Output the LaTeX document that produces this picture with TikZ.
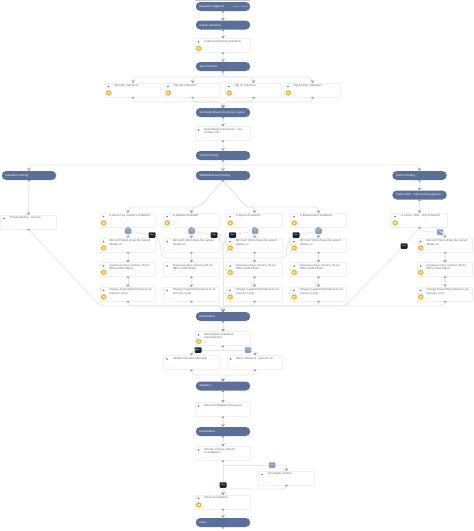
\documentclass[tikz,border=0pt]{standalone}
\usepackage{fontspec}
\setmainfont{Liberation Sans}
\usetikzlibrary{arrows.meta}
\definecolor{hdrblue}{HTML}{5A7099}
\definecolor{linegray}{HTML}{E3E6ED}
\definecolor{tipgray}{HTML}{8E99AB}
\definecolor{warnring}{HTML}{F0B33C}
\definecolor{warnfill}{HTML}{FFF1CF}
\definecolor{iconblue}{HTML}{4F74B8}
\definecolor{icongray}{HTML}{7C8594}
\definecolor{yesblue}{HTML}{84A0C2}
\definecolor{elseblack}{HTML}{1B2230}
\newcommand{\tasktext}[1]{\parbox[c][10.4pt][t]{44pt}{\raggedright #1\par\vfill ...}}
\begin{document}
\begin{tikzpicture}[x=1pt,y=-1pt,
  every node/.style={font=\fontsize{2.8}{3.5}\selectfont},
  header/.style={fill=hdrblue, text=white, rounded corners=4.5pt, minimum width=54.5pt, minimum height=9pt, inner sep=0pt, align=left, text width=47pt},
  taskbox/.style={draw=black!6, line width=0.6pt, fill=white, minimum width=55.5pt, minimum height=13.6pt, inner sep=0pt, text=black!60, align=left, text width=55.5pt, inner xsep=0pt},
  yesbox/.style={fill=yesblue, text=white, rounded corners=0.8pt, minimum width=6.5pt, minimum height=5.5pt, inner sep=0pt, font=\fontsize{1.8}{2}\selectfont},
  elsebox/.style={fill=elseblack, text=white, rounded corners=0.8pt, minimum width=7pt, minimum height=5.5pt, inner sep=0pt, font=\fontsize{1.8}{2}\selectfont},
  conn/.style={draw=linegray, line width=0.8pt, rounded corners=4pt, -{Stealth[length=2.6pt,width=3.8pt,color=tipgray]}},
  link/.style={draw=linegray, line width=0.8pt, rounded corners=4pt},
  ]
  \useasboundingbox (0,0) rectangle (474,531);
  \fill[black!22] (195,0) rectangle (250,1.2);

  % Section headers
  \node[header] (trigger) at (223,6.5) {Playbook Triggered};
  \node[font=\fontsize{2.2}{3}\selectfont, text=white!70!hdrblue] (inout) at (241,6.5) {Inputs / Outputs};
  \node[header] (collecthdr) at (223,25) {Collect Indicators};
  \node[header] (taghdr) at (223,66.5) {Tag Indicators};
  \node[header] (layouthdr) at (223,112.5) {Set Rapid Breach Response Layout};
  \node[header] (hunthdr) at (223,155.5) {Threat Hunting};
  \node[header] (indichdr) at (29,175.5) {Indicators Hunting};
  \node[header] (siemhdr) at (223,175.5) {SIEM/Advanced Hunting};
  \node[header] (cortexhdr) at (419.5,175.5) {Cortex Hunting};
  \node[header] (xqlhdr) at (419.5,195) {Cortex XDR - XQL Hunting Queries};
  \node[header] (remedhdr) at (223,316.5) {Remediation};
  \node[header] (mitighdr) at (223,386) {Mitigation};
  \node[header] (resolhdr) at (223,431.5) {Remediation};
  \node[header] (donehdr) at (223,522.5) {Done};

  % Upper tasks
  \node[taskbox] (collect) at (223,45.5) {\hspace*{9pt}\tasktext{Collect and Extract Indicators}};
  \node[taskbox] (tagone) at (133,90) {\hspace*{9pt}\tasktext{Tag URL Indicators}};
  \node[taskbox] (tagtwo) at (192.5,90) {\hspace*{9pt}\tasktext{Tag File Indicators}};
  \node[taskbox] (tagthree) at (253.5,90) {\hspace*{9pt}\tasktext{Tag IP Indicators}};
  \node[taskbox] (tagfour) at (312.5,90) {\hspace*{9pt}\tasktext{Tag Domain Indicators}};
  \node[taskbox] (rapid) at (223,133.5) {\hspace*{9pt}\tasktext{Rapid Breach Response - Set Incident Info}};
  \node[taskbox] (generic) at (28.5,222) {\hspace*{9pt}\tasktext{Threat Hunting - Generic}};

  % SIEM columns
  \node[taskbox] (chkone) at (128,220) {\hspace*{9pt}\tasktext{Is Azure Log Analytics Enabled?}};
  \node[taskbox] (chktwo) at (191.5,220) {\hspace*{9pt}\tasktext{Is QRadar Enabled?}};
  \node[taskbox] (chkthree) at (254.5,220) {\hspace*{9pt}\tasktext{Is Splunk Enabled?}};
  \node[taskbox] (chkfour) at (318.5,220) {\hspace*{9pt}\tasktext{Is Elasticsearch Enabled?}};
  \node[taskbox] (wordone) at (128,245) {\hspace*{9pt}\tasktext{Microsoft Word drops file named 'Media'.url}};
  \node[taskbox] (wordtwo) at (191.5,245) {\hspace*{9pt}\tasktext{Microsoft Word drops file named 'Media'.url}};
  \node[taskbox] (wordthree) at (254.5,245) {\hspace*{9pt}\tasktext{Microsoft Word drops file named 'Media'.url}};
  \node[taskbox] (wordfour) at (318.5,245) {\hspace*{9pt}\tasktext{Microsoft Word drops file named 'Media'.url}};
  \node[taskbox] (comone) at (128,269.5) {\hspace*{9pt}\tasktext{Suspicious New Instance Of An Office COM Object}};
  \node[taskbox] (comtwo) at (191.5,269.5) {\hspace*{9pt}\tasktext{Suspicious New Instance Of An Office COM Object}};
  \node[taskbox] (comthree) at (254.5,269.5) {\hspace*{9pt}\tasktext{Suspicious New Instance Of An Office COM Object}};
  \node[taskbox] (comfour) at (318.5,269.5) {\hspace*{9pt}\tasktext{Suspicious New Instance Of An Office COM Object}};
  \node[taskbox] (psone) at (128,294) {\hspace*{9pt}\tasktext{Change PowerShell Policies to an Insecure Level}};
  \node[taskbox] (pstwo) at (191.5,294) {\hspace*{9pt}\tasktext{Change PowerShell Policies to an Insecure Level}};
  \node[taskbox] (psthree) at (254.5,294) {\hspace*{9pt}\tasktext{Change PowerShell Policies to an Insecure Level}};
  \node[taskbox] (psfour) at (318.5,294) {\hspace*{9pt}\tasktext{Change PowerShell Policies to an Insecure Level}};

  % XQL column
  \node[taskbox] (chkxql) at (419.5,220) {\hspace*{9pt}\tasktext{Is Cortex XDR - XQL Enabled?}};
  \node[taskbox] (wordxql) at (445,245) {\hspace*{9pt}\tasktext{Microsoft Word drops file named 'Media'.url}};
  \node[taskbox] (comxql) at (445,269.5) {\hspace*{9pt}\tasktext{Suspicious New Instance Of An Office COM Object}};
  \node[taskbox] (psxql) at (445,294) {\hspace*{9pt}\tasktext{Change PowerShell Policies to an Insecure Level}};

  % Lower tasks
  \node[taskbox] (block) at (223,338.5) {\hspace*{9pt}\tasktext{Should block indicators automatically?}};
  \node[taskbox] (manual) at (191.5,362.5) {\hspace*{9pt}\tasktext{Handle Indicators Manually}};
  \node[taskbox] (blockgen) at (255,362.5) {\hspace*{9pt}\tasktext{Block Indicators - Generic v3}};
  \node[taskbox] (msmit) at (223,409.5) {\hspace*{9pt}\tasktext{Microsoft Mitigation Response}};
  \node[taskbox] (cont) at (223,453.5) {\hspace*{9pt}\tasktext{Should continue with the investigation?}};
  \node[taskbox] (invest) at (286.5,478) {\hspace*{9pt}\tasktext{Investigate Incident}};
  \node[taskbox] (closeinv) at (223,502) {\hspace*{9pt}\tasktext{Close Investigation}};

  % Yes and Else labels
  \node[yesbox] (yesone) at (128,231) {Yes};
  \node[yesbox] (yestwo) at (191.5,231) {Yes};
  \node[yesbox] (yesthree) at (255,231) {Yes};
  \node[yesbox] (yesfour) at (318.5,231) {Yes};
  \node[yesbox] (yesxql) at (440,232) {Yes};
  \node[yesbox] (yesblock) at (248,350) {Yes};
  \node[yesbox] (yescont) at (272,465) {Yes};
  \node[elsebox] (elseone) at (152,235) {Else};
  \node[elsebox] (elsetwo) at (214,235) {Else};
  \node[elsebox] (elsethree) at (232.5,235) {Else};
  \node[elsebox] (elsefour) at (296,235) {Else};
  \node[elsebox] (elsexql) at (404,246) {Else};
  \node[elsebox] (elseblock) at (198,350) {Else};
  \node[elsebox] (elsecont) at (223,485) {Else};

  % Bends
  \coordinate (tagtop) at (223,77);
  \coordinate (tagbot) at (223,102);
  \coordinate (huntbus) at (223,165);
  \coordinate (fanleft) at (200,207);
  \coordinate (fanright) at (246,207);
  \coordinate (merge) at (223,258);
  \coordinate (elsejoin) at (223,244);
  \coordinate (oneturn) at (161,246);
  \coordinate (fourturn) at (286.5,246);
  \coordinate (bottombus) at (223,306);
  \coordinate (genericturn) at (100,306);
  \coordinate (xqlturn) at (345,306);
  \coordinate (xqlfork) at (424,232);
  \coordinate (blockbus) at (223,350);
  \coordinate (blockbot) at (223,375);
  \coordinate (contbus) at (223,465);
  \coordinate (investbot) at (223,489);

  % Straight links
  \draw[conn] (trigger) -- (collecthdr);
  \draw[conn] (collecthdr) -- (collect);
  \draw[conn] (collect) -- (taghdr);
  \draw[conn] (layouthdr) -- (rapid);
  \draw[conn] (rapid) -- (hunthdr);
  \draw[conn] (indichdr) -- (generic);
  \draw[conn] (cortexhdr) -- (xqlhdr);
  \draw[conn] (xqlhdr) -- (chkxql);
  \draw[conn] (remedhdr) -- (block);
  \draw[conn] (mitighdr) -- (msmit);
  \draw[conn] (msmit) -- (resolhdr);
  \draw[conn] (resolhdr) -- (cont);
  \draw[link] (cont) -- (elsecont);
  \draw[conn] (elsecont) -- (closeinv);
  \draw[conn] (closeinv) -- (donehdr);
  \draw[conn] (wordone) -- (comone); \draw[conn] (comone) -- (psone);
  \draw[conn] (wordtwo) -- (comtwo); \draw[conn] (comtwo) -- (pstwo);
  \draw[conn] (wordthree) -- (comthree); \draw[conn] (comthree) -- (psthree);
  \draw[conn] (wordfour) -- (comfour); \draw[conn] (comfour) -- (psfour);
  \draw[conn] (wordxql) -- (comxql); \draw[conn] (comxql) -- (psxql);

  % Tag fan
  \foreach \t in {tagone,tagtwo,tagthree,tagfour} {
    \draw[conn] (taghdr.south) -- (tagtop) -- (tagtop -| \t.north) -- (\t.north);
    \draw[conn] (\t.south) -- (tagbot -| \t.south) -- (tagbot) -- (layouthdr.north);
  }
  % Hunting fan
  \foreach \t in {indichdr,siemhdr,cortexhdr} {
    \draw[conn] (hunthdr.south) -- (huntbus) -- (huntbus -| \t.north) -- (\t.north);
  }
  \draw[conn] (siemhdr.south) -- (fanleft) -- (fanleft -| chkone.north) -- (chkone.north);
  \draw[conn] (siemhdr.south) -- (fanleft) -- (fanleft -| chktwo.north) -- (chktwo.north);
  \draw[conn] (siemhdr.south) -- (fanright) -- (fanright -| chkthree.north) -- (chkthree.north);
  \draw[conn] (siemhdr.south) -- (fanright) -- (fanright -| chkfour.north) -- (chkfour.north);

  % Yes branches
  \draw[link] (chkone) -- (yesone); \draw[conn] (yesone) -- (wordone);
  \draw[link] (chktwo) -- (yestwo); \draw[conn] (yestwo) -- (wordtwo);
  \draw[link] (chkthree) -- (yesthree); \draw[conn] (yesthree) -- (wordthree);
  \draw[link] (chkfour) -- (yesfour); \draw[conn] (yesfour) -- (wordfour);

  % Else branches
  \draw[link] (yesone) -- (elseone);
  \draw[link] (yestwo) -- (elsetwo);
  \draw[link] (yesthree) -- (elsethree);
  \draw[link] (yesfour) -- (elsefour);
  \draw[link] (elseone.east) -- (oneturn) -- (merge -| oneturn) -- (merge);
  \draw[link] (elsetwo.east) -- (elsejoin) -- (merge);
  \draw[link] (elsethree.west) -- (elsejoin) -- (merge);
  \draw[link] (elsefour.west) -- (fourturn) -- (merge -| fourturn) -- (merge);
  \draw[conn] (merge) -- (remedhdr.north);

  % Into remediation
  \foreach \t in {psone,pstwo,psthree,psfour,psxql} {
    \draw[conn] (\t.south) -- (bottombus -| \t.south) -- (bottombus) -- (remedhdr.north);
  }
  \draw[conn] (generic.south) -- (genericturn) -- (bottombus) -- (remedhdr.north);

  % XQL branches
  \draw[link] (chkxql.south) -- (xqlfork) -- (yesxql.west);
  \draw[conn] (yesxql.east) -| (wordxql.north);
  \draw[link] (chkxql.south) -- (elsexql);
  \draw[conn] (elsexql) -- (xqlturn) -- (bottombus) -- (remedhdr.north);

  % Block branches
  \draw[link] (block.south) -- (blockbus);
  \draw[link] (blockbus) -- (elseblock.east);
  \draw[link] (blockbus) -- (yesblock.west);
  \draw[conn] (elseblock.west) -| (manual.north);
  \draw[conn] (yesblock.east) -| (blockgen.north);
  \draw[conn] (manual.south) -- (blockbot -| manual.south) -- (blockbot) -- (mitighdr.north);
  \draw[conn] (blockgen.south) -- (blockbot -| blockgen.south) -- (blockbot) -- (mitighdr.north);

  % Investigation branch
  \draw[link] (contbus) -- (yescont.west);
  \draw[conn] (yescont.east) -| (invest.north);
  \draw[conn] (invest.south) -- (investbot -| invest.south) -- (investbot) -- (closeinv.north);

  % Ports under each node
  \foreach \t in {trigger,collecthdr,taghdr,layouthdr,hunthdr,indichdr,siemhdr,cortexhdr,xqlhdr,remedhdr,mitighdr,resolhdr,donehdr,collect,tagone,tagtwo,tagthree,tagfour,rapid,generic,chkone,chktwo,chkthree,chkfour,wordone,wordtwo,wordthree,wordfour,comone,comtwo,comthree,comfour,psone,pstwo,psthree,psfour,chkxql,wordxql,comxql,psxql,block,manual,blockgen,msmit,cont,invest,closeinv} {
    \fill[tipgray] ([yshift=-0.6pt]\t.south) ellipse (1.5pt and 0.9pt);
  }
  % Task icons
  \foreach \t in {collect,tagone,tagtwo,tagthree,tagfour,chkone,chktwo,chkthree,chkfour,wordone,wordthree,wordfour,comone,comthree,comfour,psone,psthree,psfour,chkxql,wordxql,comxql,psxql,block,msmit,cont,invest,closeinv,manual} {
    \fill[iconblue] ([shift={(3.6,3.6)}]\t.north west) circle (0.9pt);
  }
  \foreach \t in {rapid,generic,wordtwo,comtwo,pstwo,blockgen} {
    \fill[icongray] ([shift={(3.6,3.6)}]\t.north west) circle (1pt);
  }
  % Warning badges
  \foreach \t in {collect,tagone,tagtwo,tagthree,tagfour,chkone,chktwo,chkthree,chkfour,wordone,wordthree,wordfour,comone,comthree,comfour,psone,psthree,psfour,chkxql,wordxql,comxql,psxql,block,closeinv} {
    \draw[warnring, line width=1.4pt, fill=warnfill] ([shift={(3.8,10)}]\t.north west) circle (2pt);
  }
\end{tikzpicture}
\end{document}
